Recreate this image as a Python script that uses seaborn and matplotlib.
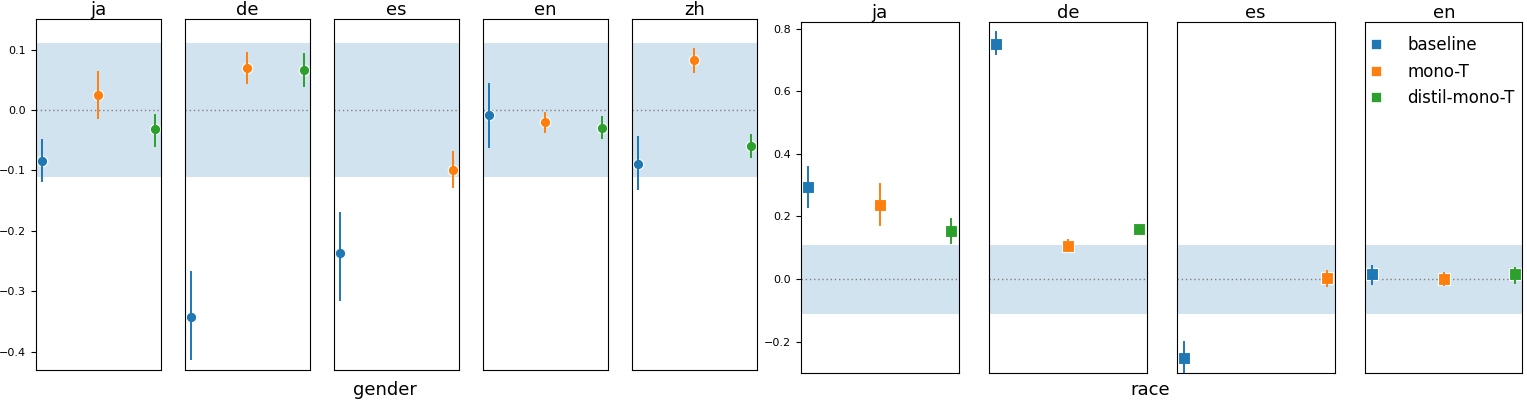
import numpy as np
import pandas as pd
import matplotlib
matplotlib.use("Agg")
import matplotlib.pyplot as plt
import seaborn as sns
from matplotlib.lines import Line2D

# ---------------- data ----------------
models = ["baseline", "mono-T", "distil-mono-T"]

gender_langs = ["ja", "de", "es", "en", "zh"]
gender_mean = [[-0.085, 0.024, -0.031],
               [-0.343, 0.070, 0.066],
               [-0.236, -0.099, np.nan],
               [-0.009, -0.020, -0.029],
               [-0.089, 0.082, -0.059]]
gender_lo = [[-0.118, -0.014, -0.059],
             [-0.412, 0.045, 0.040],
             [-0.315, -0.127, np.nan],
             [-0.062, -0.036, -0.046],
             [-0.130, 0.063, -0.077]]
gender_hi = [[-0.050, 0.063, -0.008],
             [-0.268, 0.095, 0.093],
             [-0.170, -0.069, np.nan],
             [0.043, -0.005, -0.012],
             [-0.044, 0.101, -0.041]]

race_langs = ["ja", "de", "es", "en"]
race_mean = [[0.294, 0.238, 0.155],
             [0.752, 0.107, 0.161],
             [-0.251, 0.003, np.nan],
             [0.015, 0.000, 0.015]]
race_lo = [[0.229, 0.173, 0.114],
           [0.719, 0.091, 0.152],
           [-0.310, -0.022, np.nan],
           [-0.015, -0.020, -0.012]]
race_hi = [[0.359, 0.305, 0.193],
           [0.789, 0.125, 0.170],
           [-0.200, 0.027, np.nan],
           [0.043, 0.020, 0.036]]

band = 0.11

colors = sns.color_palette("tab10", 3)
palette = dict(zip(models, colors))


def long_table(langs, mean, lo, hi):
    rows = []
    for i, lang in enumerate(langs):
        for j, m in enumerate(models):
            if np.isnan(mean[i][j]):
                continue
            for v in (lo[i][j], mean[i][j], hi[i][j]):
                rows.append({"lang": lang, "model": m, "value": v})
    return pd.DataFrame(rows)


gender_df = long_table(gender_langs, gender_mean, gender_lo, gender_hi)
race_df = long_table(race_langs, race_mean, race_lo, race_hi)

W, H = 1527, 400
fig = plt.figure(figsize=(W / 100, H / 100), dpi=100)


def rect(l, t, w, h):
    return [l / W, 1 - (t + h) / H, w / W, h / H]


def draw_group(df, langs, lefts, width, top, height, ylim, marker, ms):
    axes = []
    for k, (lang, left) in enumerate(zip(langs, lefts)):
        ax = fig.add_axes(rect(left, top, width, height))
        ax.axhspan(-band, band, color=colors[0], alpha=0.2, lw=0, zorder=0)
        ax.axhline(0, ls=(0, (1, 2)), color="gray", lw=1.0, zorder=1)
        sub = df[df["lang"] == lang]
        present = [m for m in models if m in set(sub["model"])]
        sns.pointplot(data=sub, x="model", y="value",
                      hue="model", order=present, hue_order=models,
                      palette=palette, estimator="median",
                      errorbar=("pi", 100), markers=marker,
                      linestyles="none", markersize=ms,
                      markeredgecolor="white", markeredgewidth=0.8,
                      err_kws={"linewidth": 1.4, "linestyle": "-"},
                      legend=False, ax=ax)
        span = len(present) - 1
        ax.set_xlim(-0.05 * span, span + 0.05 * span)
        ax.set_ylim(*ylim)
        ax.set_xticks([])
        ax.set_xlabel("")
        ax.set_ylabel("")
        ax.set_title(lang, fontsize=13, pad=3)
        ax.tick_params(axis="y", labelsize=8)
        if k > 0:
            ax.tick_params(axis="y", left=False, labelleft=False)
        axes.append(ax)
    return axes


g_axes = draw_group(gender_df, gender_langs, [36, 185, 334, 483, 632], 124.5,
                    19.3, 350.7, (-0.43, 0.15), "o", 7.5)
r_axes = draw_group(race_df, race_langs, [801, 989, 1177, 1365], 157.5,
                    22.3, 350.7, (-0.30, 0.82), "s", 8)

fig.text(385 / W, 5 / H, "gender", ha="center", va="baseline", fontsize=13)
fig.text(1150 / W, 5 / H, "race", ha="center", va="baseline", fontsize=13)

handles = [Line2D([], [], marker="s", ls="none", color=palette[m],
                  markersize=7, markeredgecolor="white", markeredgewidth=0.5)
           for m in models]
r_axes[-1].legend(handles, models, loc="upper left",
                  bbox_to_anchor=(0.027, 0.96), frameon=False, fontsize=12,
                  handlelength=0.8, handletextpad=1.5, borderpad=0,
                  borderaxespad=0, labelspacing=0.5)

fig.savefig("out.png", dpi=100)
